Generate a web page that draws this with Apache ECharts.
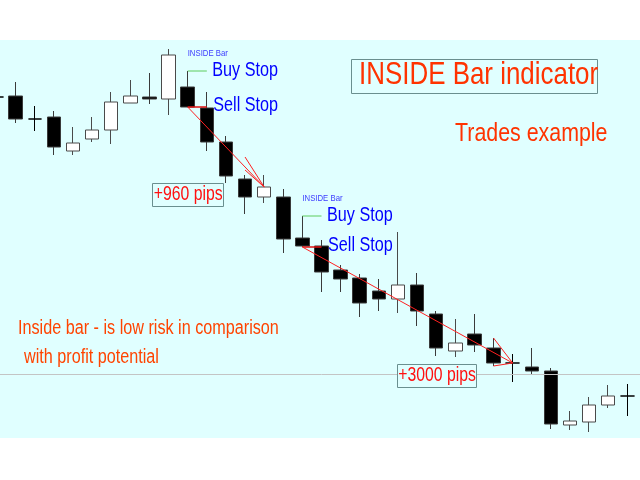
<!DOCTYPE html>
<html>
<head>
<meta charset="utf-8">
<script src="https://cdn.jsdelivr.net/npm/echarts@6/dist/echarts.min.js"></script>
<style>
html,body{margin:0;padding:0;background:#ffffff;overflow:hidden;width:640px;height:480px;}
#wrap{position:relative;width:640px;height:480px;overflow:hidden;}
#chart{position:absolute;left:-13px;top:0;width:669px;height:480px;}
</style>
</head>
<body>
<div id="wrap"><div id="chart"></div></div>
<script>
// ---- data (value = price level, higher = higher on chart) ----
var bars   = ['1','2','3','4','5','6','7','8','9','10','11','12','13','14','15','16','17','18','19','20','21','22','23','24','25','26','27','28','29','30','31','32','33','34','35'];
var opens  = [341,342,319,321,287,299,308,335,341,339,351,330,296,259,241,241,200,192,168,160,147,139,153,124, 87,104, 90, 75, 71, 67, 13, 16, 33, 42, null];
var closes = [341,319,319,291,295,308,336,342,339,383,331,296,262,241,251,199,192,166,159,135,139,153,127, 90, 95, 93, 75, 75, 67, 14, 17, 33, 42, 42, null];
var lows   = [341,315,307,283,283,296,294,335,334,323,331,287,255,224,235,185,191,146,146,121,127,125,112, 82, 81, 86, 72, 56, 64,  9,  8,  6, 30, 22, null];
var highs  = [341,356,332,327,311,321,346,358,365,389,367,346,302,263,263,249,222,198,173,164,159,206,165,127,119,124,100, 84, 90, 70, 27, 41, 53, 54, null];

// inside-bar setups: [insideBarIndex, buyStopLevel, sellStopLevel]
var insideBars = [[10, 367, 331], [16, 222, 191]];
// trade arrows: [fromIndex, fromLevel, toIndex, toLevel]
var tradeArrows = [[10, 331, 14, 251], [16, 191, 27, 75]];
// arrow head side points: [x1, y1, x2, y2] (toward the tip of each arrow)
var arrowHeads = [[12.96, 281, 13.37, 268], [26, 100, 26, 72]];
// profit labels: [text, index, level]
var pipsLabels = [['+960 pips', 10, 244], ['+3000 pips', 22.8, 63]];
var refLevel = 64;

var candleData = bars.map(function (b, i) {
  if (opens[i] == null) return '-';
  return [opens[i], closes[i], lows[i], highs[i]];
});

// build segment list for custom series
var segs = [];
insideBars.forEach(function (ib) {
  segs.push([ib[0], ib[1], ib[0] + 1, ib[1], 'buy']);
  segs.push([ib[0], ib[2], ib[0] + 1, ib[2], 'sell']);
});
tradeArrows.forEach(function (a, k) {
  segs.push([a[0], a[1], a[2], a[3], 'arrow']);
  var h = arrowHeads[k];
  segs.push([h[0], h[1], a[2], a[3], 'arrow']);
  segs.push([h[2], h[3], a[2], a[3], 'arrow']);
});

var chart = echarts.init(document.getElementById('chart'), null, {renderer: 'canvas'});
var FONT = '"Liberation Sans", Arial, sans-serif';
var OFF = 13; // horizontal offset of the chart canvas relative to the page

var option = {
  animation: false,
  backgroundColor: 'transparent',
  grid: {left: 0, right: 0, top: 40, bottom: 42, show: false},
  xAxis: {type: 'category', data: bars, boundaryGap: true, show: false},
  yAxis: {type: 'value', min: 0, max: 398, show: false, splitLine: {show: false}},
  series: [
    {
      type: 'line',
      data: [],
      z: 1,
      silent: true,
      markLine: {
        silent: true, symbol: 'none', label: {show: false},
        lineStyle: {color: '#c4c4c4', width: 1, type: 'solid'},
        data: [{yAxis: refLevel}]
      }
    },
    {
      type: 'candlestick',
      data: candleData,
      barWidth: 14,
      z: 3,
      itemStyle: {
        color: '#ffffff', color0: '#000000',
        borderColor: '#4a4a4a', borderColor0: '#3a3a3a',
        borderColorDoji: '#000000', borderWidth: 1
      }
    },
    {
      type: 'custom',
      z: 4,
      silent: true,
      data: segs,
      renderItem: function (params, api) {
        var p1 = api.coord([api.value(0), api.value(1)]);
        var p2 = api.coord([api.value(2), api.value(3)]);
        var kind = segs[params.dataIndex][4];
        var col = kind === 'buy' ? '#5ccc5c' : (kind === 'sell' ? '#e01010' : '#ff2020');
        var w = kind === 'sell' ? 1.5 : 1;
        return {type: 'line', shape: {x1: p1[0], y1: p1[1], x2: p2[0], y2: p2[1]},
                style: {stroke: col, lineWidth: w}};
      }
    }
  ]
};
chart.setOption(option);

function px(i, v) { return chart.convertToPixel({gridIndex: 0}, [i, v]); }
function txt(x, y, s, size, color, sx) {
  return {type: 'text', x: x, y: y, scaleX: sx || 0.83, z: 20,
          style: {text: s, x: 0, y: 0, fill: color, font: size + 'px ' + FONT,
                  verticalAlign: 'middle', align: 'left'}};
}
var g = [];
// chart area background (page x 0..640)
g.push({type: 'rect', z: -10, shape: {x: 0, y: 40, width: 669, height: 398}, style: {fill: '#e0ffff'}});

insideBars.forEach(function (ib) {
  var pTop = px(ib[0], ib[1]);
  var pEnd = px(ib[0] + 1, ib[1]);
  var pLow = px(ib[0] + 1, ib[2]);
  g.push(txt(pTop[0], pTop[1] - 17.5, 'INSIDE Bar', 9.6, '#3c3cff', 0.81));
  g.push(txt(pEnd[0] + 5.5, pTop[1], 'Buy Stop', 19.5, '#0000ff'));
  g.push(txt(pLow[0] + 6.5, pLow[1] - 1.5, 'Sell Stop', 19.5, '#0000ff'));
});

pipsLabels.forEach(function (pl, k) {
  var c = px(pl[1], pl[2]);
  var w = k === 0 ? 71 : 79;
  g.push({type: 'rect', z: 15, shape: {x: Math.round(c[0] - w / 2) + 0.5, y: Math.round(c[1] - 11.5) + 0.5, width: w, height: 23},
          style: {fill: '#e0ffff', stroke: '#6a8f8f', lineWidth: 1}});
  g.push(txt(c[0] - w / 2 + 1.5, c[1] + 0.5, pl[0], 19.5, '#ff1010', 0.81));
});

// titles / notes (page coordinates + OFF)
g.push({type: 'rect', z: 15, shape: {x: 351.5 + OFF, y: 59.5, width: 246, height: 34},
        style: {fill: '#e0ffff', stroke: '#6a8f8f', lineWidth: 1}});
g.push(txt(359 + OFF, 75.5, 'INSIDE Bar indicator', 30.5, '#ff3300', 0.85));
g.push(txt(455 + OFF, 134, 'Trades example', 25, '#ff3300', 0.855));
g.push(txt(18 + OFF, 329, 'Inside bar - is low risk in comparison', 19.5, '#ff4400', 0.83));
g.push(txt(24 + OFF, 358, 'with profit potential', 19.5, '#ff4400', 0.83));

chart.setOption({graphic: g});
</script>
</body>
</html>
